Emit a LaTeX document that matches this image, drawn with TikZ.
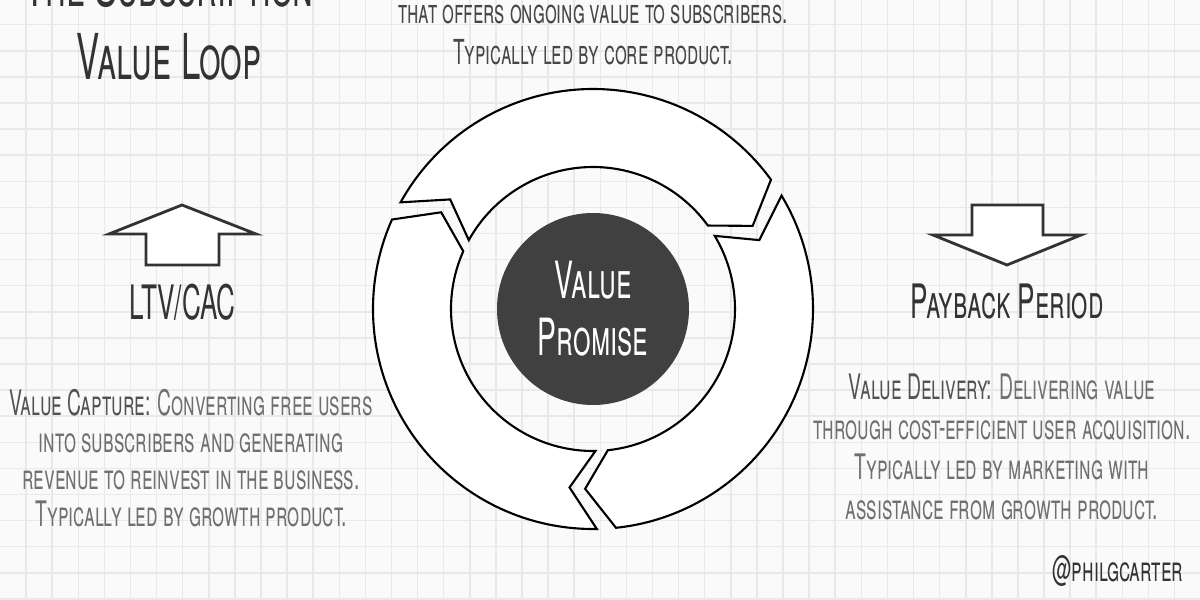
\documentclass[tikz,border=0pt]{standalone}
\usepackage{fontspec}
\setmainfont{TeX Gyre Heros}[FakeStretch=0.55]
\usepackage{tikz}
\usetikzlibrary{positioning}
\definecolor{paper}{HTML}{FAFAFA}
\definecolor{gridgray}{HTML}{E9E9E9}
\definecolor{ink}{HTML}{333333}
\definecolor{softink}{HTML}{707070}
\definecolor{promisefill}{HTML}{404040}
\tikzstyle{gridline} = [draw=gridgray, line width=0.45pt]
\tikzstyle{loopseg} = [draw=black, fill=white, line width=0.6pt, line join=miter]
\tikzstyle{bigarrow} = [draw=ink, fill=white, line width=0.8pt]
\tikzstyle{headline} = [text=ink, inner sep=0pt, font=\fontsize{13.5}{15}\selectfont\scshape]
\tikzstyle{note} = [text=softink, inner sep=0pt, align=center, font=\fontsize{10}{10.6}\selectfont\scshape]

\begin{document}
\begin{tikzpicture}
    % Paper and grid
    \clip (0,0) rectangle (12,6);
    \fill[paper] (0,0) rectangle (12,6);
    \foreach \i in {1,...,45}
        \draw[gridline] (\i*0.261,0) -- (\i*0.261,6);
    \foreach \j in {0,...,22}
        \draw[gridline] (0,5.753-\j*0.261) -- (12,5.753-\j*0.261);

    % Title
    \node (title) [headline, align=center, font=\fontsize{18}{20.8}\selectfont\scshape] at (1.69,5.805) {The Subscription\\Value Loop};

    % Top note
    \node (promisenote) [note, text=ink!90, font=\fontsize{9.8}{11.4}\selectfont\scshape] at (5.93,5.65) {that offers ongoing value to subscribers.\\Typically led by core product.};

    % Loop segments
    \coordinate (hub) at (5.93,2.91);
    \foreach \a in {151,31,-89}
        \draw[loopseg, shift={(hub)}] ({\a}:2.2) arc[start angle=\a, end angle=\a-115, radius=2.2] -- ({\a-123.5}:1.8) -- ({\a-115}:1.42) arc[start angle=\a-115, end angle=\a, radius=1.42] -- ({\a-8.5}:1.8) -- cycle;

    % Centre
    \node (promise) [circle, fill=promisefill, minimum size=1.92cm, inner sep=0pt, text=white, align=center, font=\fontsize{14.6}{16.2}\selectfont\scshape] at (hub) {Value\\Promise};

    % Left side
    \coordinate (upbase) at (1.825,3.35);
    \draw[bigarrow] (1.46,3.35) -- (1.46,3.66) -- (1.09,3.66) -- (1.82,3.95) -- (2.56,3.66) -- (2.19,3.66) -- (2.19,3.35) -- cycle;
    \node (ltv) [headline, below=0.18 of upbase] {LTV/CAC};
    \node (capture) [note] at (1.91,1.42) {{\color{ink!85}Value Capture:} Converting free users\\into subscribers and generating\\revenue to reinvest in the business.\\Typically led by growth product.};

    % Right side
    \coordinate (downtip) at (10.07,3.35);
    \draw[bigarrow] (9.72,3.95) -- (10.43,3.95) -- (10.43,3.65) -- (10.81,3.65) -- (downtip) -- (9.33,3.65) -- (9.72,3.65) -- cycle;
    \node (payback) [headline, below=0.18 of downtip] {Payback Period};
    \node (delivery) [note, font=\fontsize{10}{11.4}\selectfont\scshape] at (10.02,1.53) {{\color{ink!85}Value Delivery:} Delivering value\\through cost-efficient user acquisition.\\Typically led by marketing with\\assistance from growth product.};

    % Handle
    \node (handle) [headline, anchor=east, font=\fontsize{10}{12}\selectfont\scshape] at (11.84,0.29) {@philgcarter};
\end{tikzpicture}
\end{document}
